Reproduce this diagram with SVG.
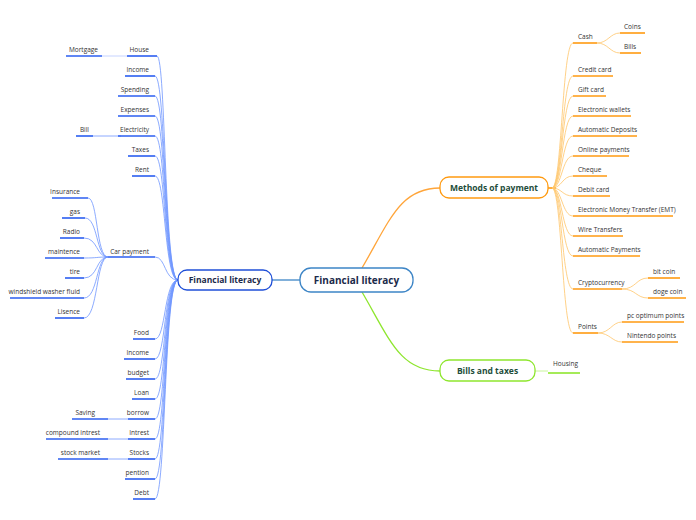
<svg xmlns="http://www.w3.org/2000/svg" width="696" height="520" viewBox="0 0 696 520">
<style>
text{font-family:"Open Sans","Noto Sans",sans-serif;font-size:6.5px;fill:#333}
.bl{stroke:#2b5ef0;stroke-width:1.6;fill:none}
.bc{stroke:#6f95ff;stroke-width:0.8;fill:none}
.or{stroke:#ff9a10;stroke-width:1.6;fill:none}
.oc{stroke:#ffc56a;stroke-width:0.8;fill:none}
.gr{stroke:#8ee62e;stroke-width:1.6;fill:none}
.nd{fill:#fff;stroke-width:1.3}
.nt{font-size:8.5px;font-weight:bold;text-anchor:middle}
.r{text-anchor:end}
</style>
<g id="connectors">
<path d="M362,268 C390,220 400,188 440,188" stroke="#ffa53a" stroke-width="1.3" fill="none"/>
<path d="M362,292 C390,340 400,371 440,371" stroke="#8ee62e" stroke-width="1.3" fill="none"/>
<path d="M272,280 L300,280" stroke="#3d85c6" stroke-width="1.3"/>
<path d="M548,188 L556,188" class="or"/>
<path d="M535,371 L548,371" stroke="#c8f59a" stroke-width="1"/>
<g class="bc">
<path d="M178,280 C164,280 166,56 157,56"/><path d="M178,280 C164,280 166,76 155,76"/><path d="M178,280 C164,280 166,96 155,96"/><path d="M178,280 C164,280 166,116 155,116"/><path d="M178,280 C164,280 166,136 155,136"/><path d="M178,280 C164,280 166,156 155,156"/><path d="M178,280 C164,280 166,176 155,176"/><path d="M178,280 C164,280 166,257 155,257"/><path d="M178,280 C164,280 166,339 155,339"/><path d="M178,280 C164,280 166,359 155,359"/><path d="M178,280 C164,280 166,379 155,379"/><path d="M178,280 C164,280 166,399 155,399"/><path d="M178,280 C164,280 166,419 155,419"/><path d="M178,280 C164,280 166,439 155,439"/><path d="M178,280 C164,280 166,459 155,459"/><path d="M178,280 C164,280 166,479 155,479"/><path d="M178,280 C164,280 166,499 155,499"/>
<path d="M108,257 C96,257 98,198 88,198"/><path d="M108,257 C96,257 98,218 85,218"/><path d="M108,257 C96,257 98,238 84,238"/><path d="M108,257 C96,257 98,258 84,258"/><path d="M108,257 C96,257 98,278 84,278"/><path d="M108,257 C96,257 98,298 84,298"/><path d="M108,257 C96,257 98,318 84,318"/>
<path d="M127,56 L102,56" stroke="#b8c8ff"/><path d="M121,136 L93,136"/><path d="M128,419 L108,419"/><path d="M128,439 L108,439"/><path d="M128,459 L108,459"/>
</g>
<g class="oc">
<path d="M552,188 C562,188 562,43 573,43"/><path d="M552,188 C562,188 562,76 573,76"/><path d="M552,188 C562,188 562,96 573,96"/><path d="M552,188 C562,188 562,116 573,116"/><path d="M552,188 C562,188 562,136 573,136"/><path d="M552,188 C562,188 562,156 573,156"/><path d="M552,188 C562,188 562,176 573,176"/><path d="M552,188 C562,188 562,196 573,196"/><path d="M552,188 C562,188 562,216 573,216"/><path d="M552,188 C562,188 562,236 573,236"/><path d="M552,188 C562,188 562,256 573,256"/><path d="M552,188 C562,188 562,289 573,289"/><path d="M552,188 C562,188 562,333 573,333"/>
<path d="M597,43 C608,43 610,33 620,33"/><path d="M597,43 C608,43 610,53 620,53"/>
<path d="M622,289 C636,289 636,278 648,278"/><path d="M622,289 C636,289 636,298 648,298"/>
<path d="M598,333 C610,333 612,322 622,322"/><path d="M598,333 C610,333 612,342 622,342"/>
</g>
<g class="bl">
<path d="M127,56H157"/><path d="M66,56H102"/><path d="M125,76H155"/><path d="M118,96H155"/><path d="M118,116H155"/><path d="M118,136H155"/><path d="M76,136H93"/><path d="M128,156H155"/><path d="M132,176H155"/><path d="M108,257H155"/>
<path d="M52,198H88"/><path d="M62,218H85"/><path d="M60,238H84"/><path d="M45,258H84"/><path d="M65,278H84"/><path d="M10,298H84"/><path d="M55,318H84"/>
<path d="M133,339H155"/><path d="M124,359H155"/><path d="M126,379H155"/><path d="M132,399H155"/><path d="M128,419H155"/><path d="M72,419H108"/><path d="M128,439H155"/><path d="M46,439H108"/><path d="M128,459H155"/><path d="M58,459H108"/><path d="M125,479H155"/><path d="M133,499H155"/>
</g>
<g class="or">
<path d="M573,43H597"/><path d="M620,33H645"/><path d="M620,53H641"/><path d="M573,76H613"/><path d="M573,96H606"/><path d="M573,116H631"/><path d="M573,136H637"/><path d="M573,156H629"/><path d="M573,176H607"/><path d="M573,196H610"/><path d="M573,216H673"/><path d="M573,236H623"/><path d="M573,256H640"/><path d="M573,289H622"/><path d="M648,278H680"/><path d="M648,298H686"/><path d="M573,333H598"/><path d="M622,322H684"/><path d="M622,342H678"/>
</g>
<path d="M548,373H580" class="gr"/>
</g>
<g id="center"><rect x="300" y="268" width="113" height="24" rx="11" class="nd" stroke="#3d85c6"/><text x="356.5" y="284" class="nt" style="font-size:10px;fill:#1b2a4a">Financial literacy</text></g>
<g id="n-left"><rect x="178" y="270" width="94" height="20" rx="9" class="nd" stroke="#1f4fd8"/><text x="225" y="283" class="nt" style="fill:#1b2a4a">Financial literacy</text></g>
<g id="n-methods"><rect x="440" y="177" width="108" height="21" rx="9" class="nd" stroke="#ff9a10"/><text x="494" y="191" class="nt" style="fill:#1e4d3a">Methods of payment</text></g>
<g id="n-bills"><rect x="440" y="360" width="95" height="21" rx="9" class="nd" stroke="#8ee62e"/><text x="487.5" y="374" class="nt" style="fill:#1e4d3a">Bills and taxes</text></g>
<g id="leaves-left">
<text x="149" y="52" class="r">House</text><text x="98" y="52" class="r">Mortgage</text><text x="149" y="72" class="r">Income</text><text x="149" y="92" class="r">Spending</text><text x="149" y="112" class="r">Expenses</text><text x="149" y="132" class="r">Electricity</text><text x="89" y="132" class="r">Bill</text><text x="149" y="152" class="r">Taxes</text><text x="149" y="172" class="r">Rent</text><text x="149" y="254" class="r">Car payment</text>
<text x="80" y="194" class="r">Insurance</text><text x="80" y="214" class="r">gas</text><text x="80" y="234" class="r">Radio</text><text x="80" y="254" class="r">maintence</text><text x="80" y="274" class="r">tire</text><text x="80" y="294" class="r">windshield washer fluid</text><text x="80" y="314" class="r">Lisence</text>
<text x="149" y="335" class="r">Food</text><text x="149" y="355" class="r">Income</text><text x="149" y="375" class="r">budget</text><text x="149" y="395" class="r">Loan</text><text x="149" y="415" class="r">borrow</text><text x="95" y="415" class="r">Saving</text><text x="149" y="435" class="r">Intrest</text><text x="100" y="435" class="r">compound intrest</text><text x="149" y="455" class="r">Stocks</text><text x="100" y="455" class="r">stock market</text><text x="149" y="475" class="r">pention</text><text x="149" y="495" class="r">Debt</text>
</g>
<g id="leaves-right">
<text x="578" y="39">Cash</text><text x="624" y="29">Coins</text><text x="624" y="49">Bills</text><text x="578" y="72">Credit card</text><text x="578" y="92">Gift card</text><text x="578" y="112">Electronic wallets</text><text x="578" y="132">Automatic Deposits</text><text x="578" y="152">Online payments</text><text x="578" y="172">Cheque</text><text x="578" y="192">Debit card</text><text x="578" y="212">Electronic Money Transfer (EMT)</text><text x="578" y="232">Wire Transfers</text><text x="578" y="252">Automatic Payments</text><text x="578" y="285">Cryptocurrency</text><text x="653" y="274">bit coin</text><text x="653" y="294">doge coin</text><text x="578" y="329">Points</text><text x="627" y="318">pc optimum points</text><text x="627" y="338">Nintendo points</text>
<text x="553" y="366">Housing</text>
</g>
</svg>
